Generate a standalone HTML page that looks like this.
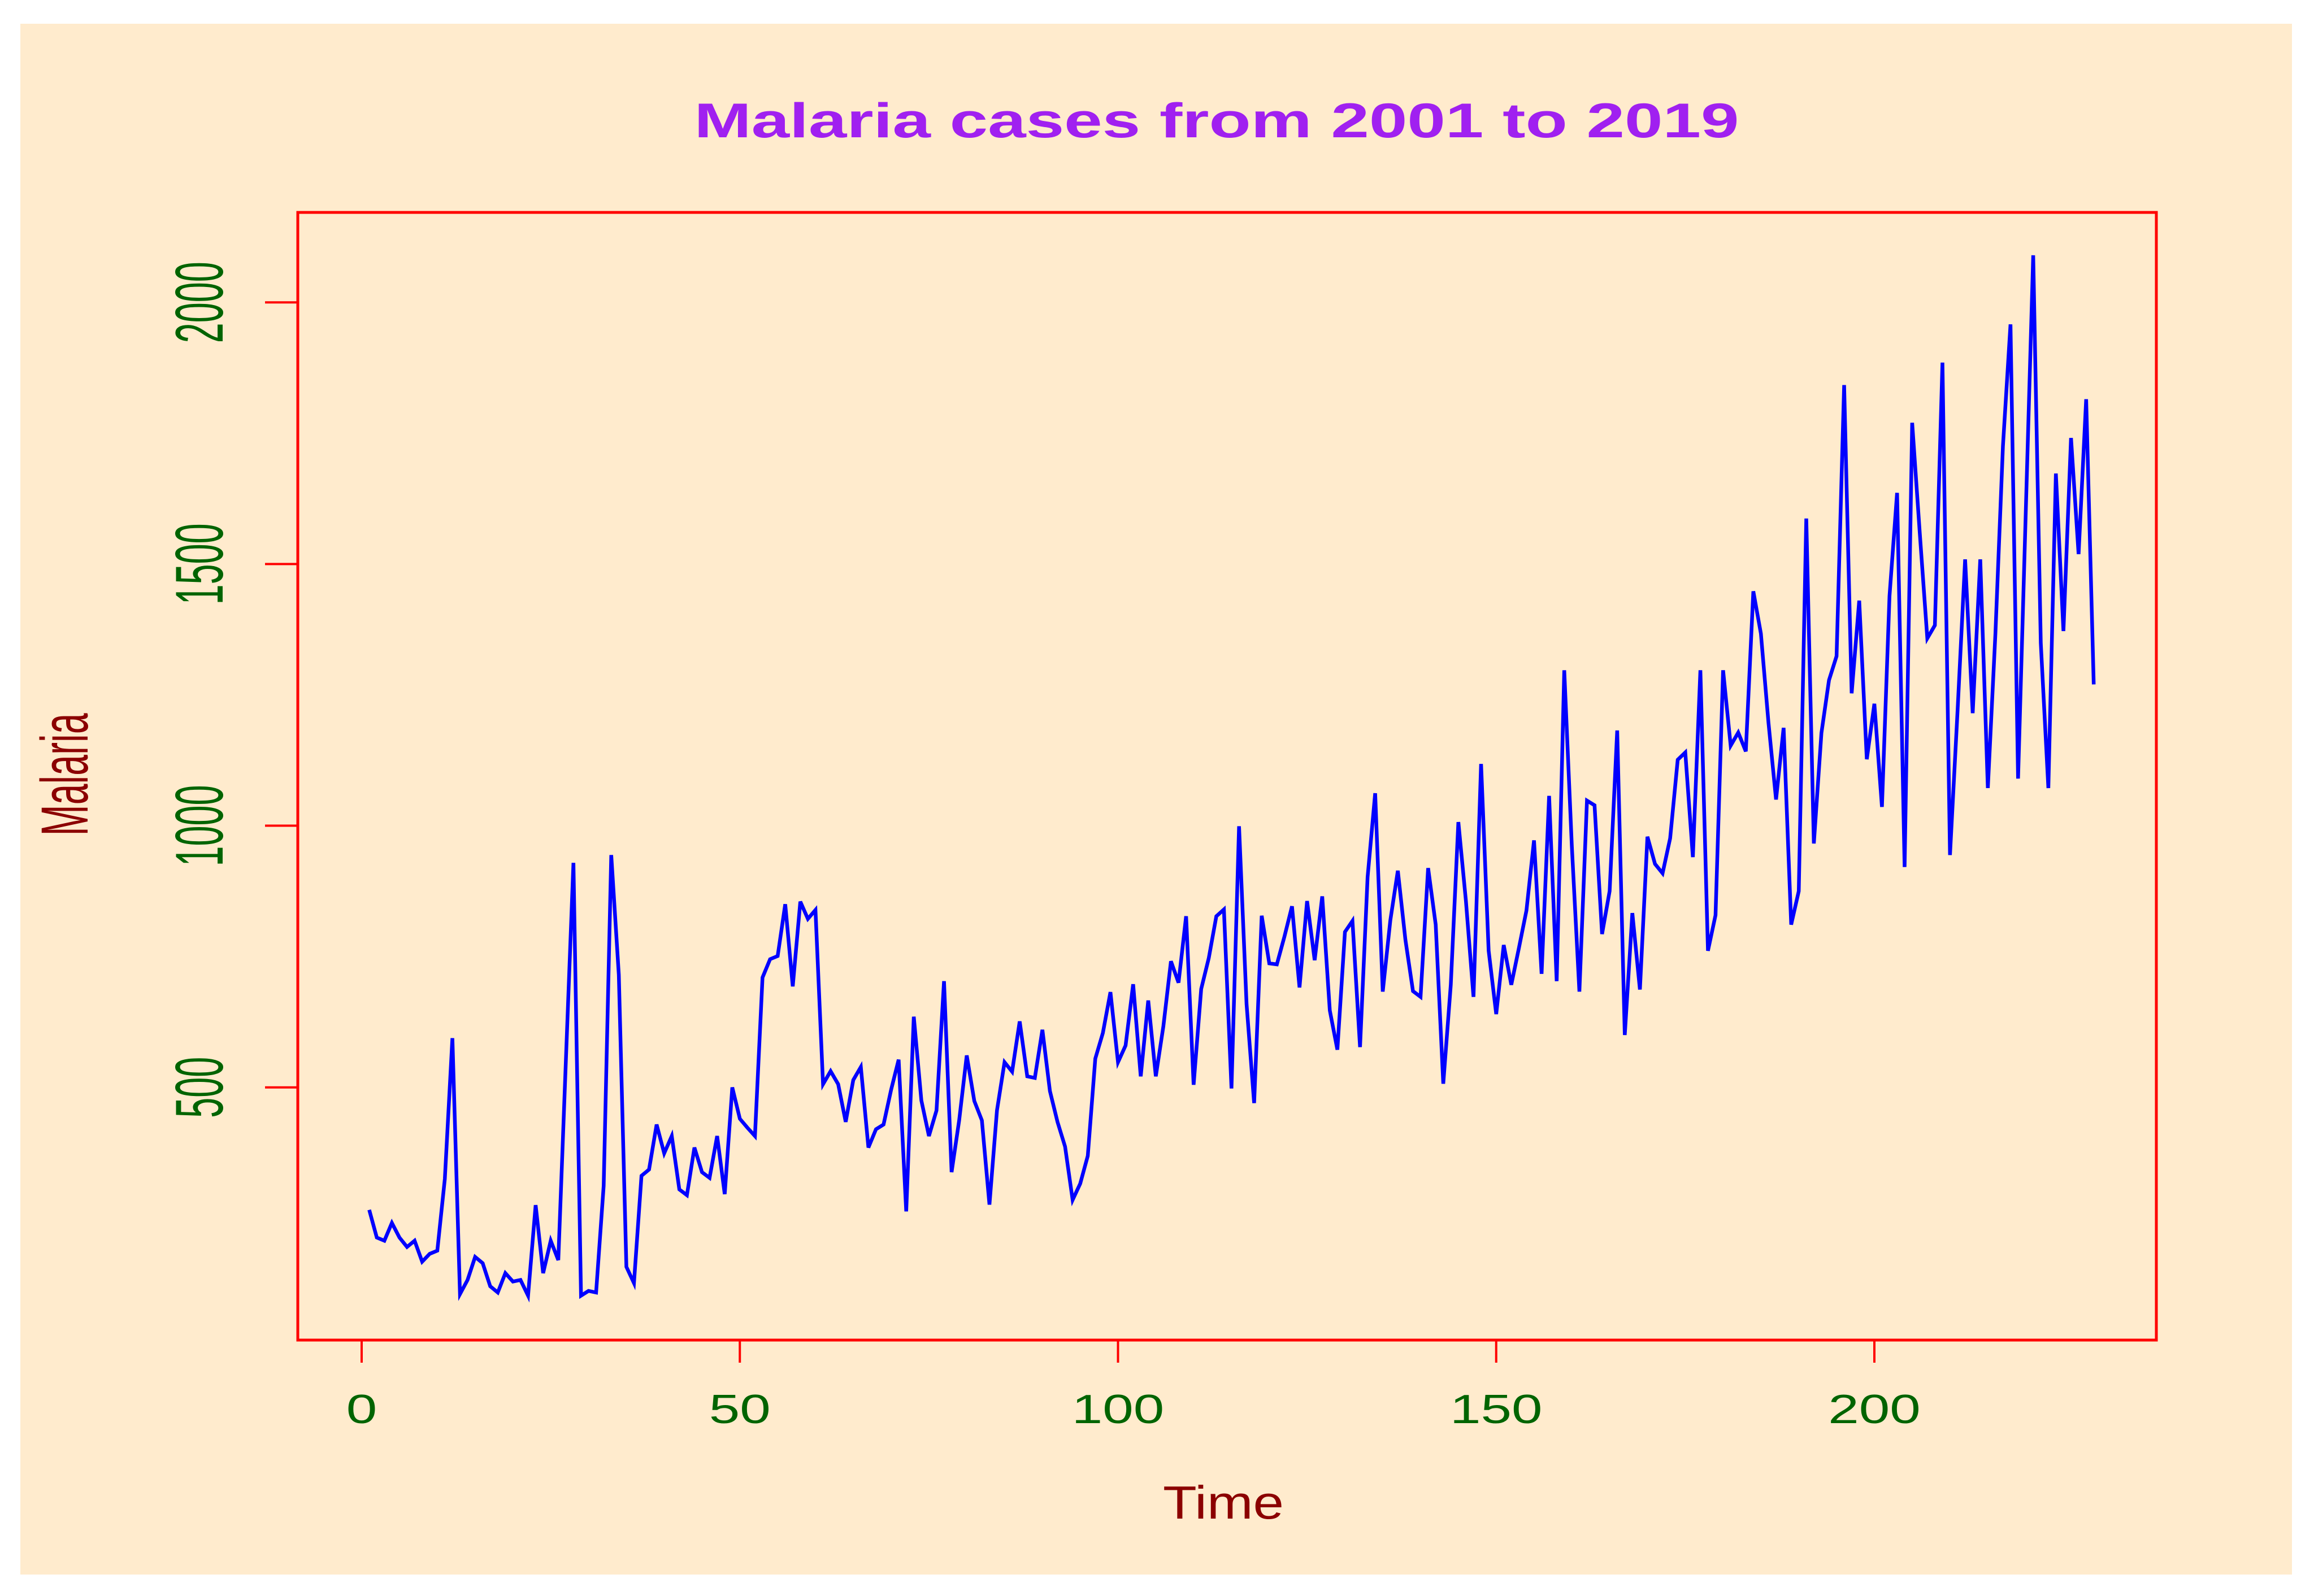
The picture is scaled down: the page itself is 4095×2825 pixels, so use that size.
<!DOCTYPE html>
<html>
<head>
<meta charset="utf-8">
<style>
html,body{margin:0;padding:0;background:#ffffff;}
svg{display:block;}
</style>
</head>
<body>
<svg id="chart" width="4095" height="2825" viewBox="0 0 4095 2825" xmlns="http://www.w3.org/2000/svg">
  <rect x="0" y="0" width="4095" height="2825" fill="#ffffff"/>
  <rect x="36" y="42" width="4020" height="2745" fill="#FFEBCD"/>
  <text x="2153" y="243" text-anchor="middle" font-family="'Liberation Sans', sans-serif" font-weight="bold" font-size="86" fill="#A020F0" textLength="1849" lengthAdjust="spacingAndGlyphs">Malaria cases from 2001 to 2019</text>
  <g id="series-layer"></g>
  <rect x="527" y="376" width="3289" height="1996" fill="none" stroke="#FF0000" stroke-width="5"/>
  <g id="x-axis"></g>
  <g id="y-axis"></g>
  <text x="2165" y="2688" text-anchor="middle" font-family="'Liberation Sans', sans-serif" font-size="83" fill="#8B0000" textLength="214" lengthAdjust="spacingAndGlyphs">Time</text>
  <text transform="translate(155,1371) rotate(-90)" x="0" y="0" text-anchor="middle" font-family="'Liberation Sans', sans-serif" font-size="118" fill="#8B0000" textLength="217" lengthAdjust="spacingAndGlyphs">Malaria</text>
</svg>
<script>
const malariaCases = [
266,213,207,241,213,195,207,167,182,188,325,594,105,132,176,164,120,108,145,129,
132,102,275,145,207,170,551,929,102,111,108,312,944,715,157,126,331,343,
429,374,407,305,294,385,338,327,407,296,500,440,423,407,710,745,751,850,693,855,
822,839,506,531,506,434,514,539,385,420,429,495,553,263,635,475,407,456,
703,338,437,561,474,437,276,456,548,530,626,521,518,610,493,434,387,285,316,369,
555,604,682,548,580,697,521,666,521,617,741,700,827,505,688,747,827,840,
498,999,659,470,828,737,735,788,846,691,856,743,865,647,572,797,818,577,902,1062,
683,819,914,782,684,673,919,811,507,696,1007,856,673,1118,761,640,772,696,
766,838,972,717,1057,703,1297,961,683,1048,1039,793,875,1182,600,833,687,979,927,909,
976,1126,1140,940,1297,761,829,1297,1153,1178,1142,1448,1367,1197,1050,1187,811,
875,1587,966,1177,1278,1324,1842,1253,1430,1127,1233,1036,1439,1636,921,1770,1560,1358,1383,1885,
944,1219,1509,1215,1509,1072,1367,1725,1958,1090,1591,2090,1349,1072,1673,1372,1741,1519,1815,1270
];
const xTickValues = [0, 50, 100, 150, 200];
const xTickLabels = ["0", "50", "100", "150", "200"];
const yTickValues = [500, 1000, 1500, 2000];
const yTickLabels = ["500", "1000", "1500", "2000"];

const NS = "http://www.w3.org/2000/svg";
function xScale(t) { return 640 + 13.385 * t; }
function yScale(v) { return 1924.7 - (v - 500) * 0.9263; }

const seriesLayer = document.getElementById("series-layer");
let d = "";
malariaCases.forEach(function (v, i) {
  d += (i === 0 ? "M" : "L") + xScale(i + 1).toFixed(1) + "," + yScale(v).toFixed(1);
});
const line = document.createElementNS(NS, "path");
line.setAttribute("d", d);
line.setAttribute("fill", "none");
line.setAttribute("stroke", "#0000FF");
line.setAttribute("stroke-width", "6.5");
line.setAttribute("stroke-linejoin", "miter");


seriesLayer.appendChild(line);

const xAxis = document.getElementById("x-axis");
xTickValues.forEach(function (t, i) {
  const x = xScale(t);
  const tick = document.createElementNS(NS, "line");
  tick.setAttribute("x1", x); tick.setAttribute("x2", x);
  tick.setAttribute("y1", 2372); tick.setAttribute("y2", 2412);
  tick.setAttribute("stroke", "#FF0000"); tick.setAttribute("stroke-width", "4");
  
  
  xAxis.appendChild(tick);
  const lab = document.createElementNS(NS, "text");
  lab.setAttribute("x", x); lab.setAttribute("y", 2519);
  lab.setAttribute("text-anchor", "middle");
  lab.setAttribute("font-family", "'Liberation Sans', sans-serif");
  lab.setAttribute("font-size", "72");
  lab.setAttribute("fill", "#006400");
  lab.setAttribute("textLength", (xTickLabels[i].length * 54.5).toString());
  lab.setAttribute("lengthAdjust", "spacingAndGlyphs");
  lab.textContent = xTickLabels[i];
  
  
  xAxis.appendChild(lab);
});

const yAxis = document.getElementById("y-axis");
yTickValues.forEach(function (v, i) {
  const y = yScale(v);
  const tick = document.createElementNS(NS, "line");
  tick.setAttribute("x1", 469); tick.setAttribute("x2", 527);
  tick.setAttribute("y1", y); tick.setAttribute("y2", y);
  tick.setAttribute("stroke", "#FF0000"); tick.setAttribute("stroke-width", "4");
  
  
  yAxis.appendChild(tick);
  const lab = document.createElementNS(NS, "text");
  lab.setAttribute("transform", "translate(394," + y.toFixed(1) + ") rotate(-90)");
  lab.setAttribute("x", 0); lab.setAttribute("y", 0);
  lab.setAttribute("text-anchor", "middle");
  lab.setAttribute("font-family", "'Liberation Sans', sans-serif");
  lab.setAttribute("font-size", "120");
  lab.setAttribute("fill", "#006400");
  lab.setAttribute("textLength", (yTickLabels[i].length * 36).toString());
  lab.setAttribute("lengthAdjust", "spacingAndGlyphs");
  lab.textContent = yTickLabels[i];
  
  
  yAxis.appendChild(lab);
});
</script>
</body>
</html>
